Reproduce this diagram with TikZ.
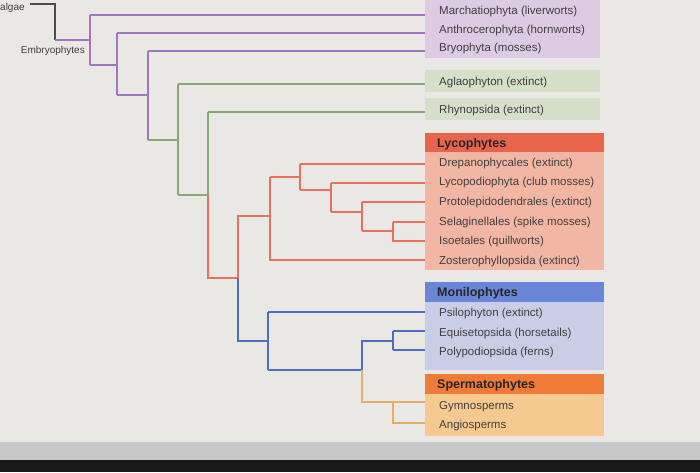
\documentclass[tikz,border=0pt]{standalone}
\usepackage{fontspec}
\setmainfont{Liberation Sans}
\usetikzlibrary{positioning}
\definecolor{bggray}{HTML}{E9E8E5}
\definecolor{lnpurple}{HTML}{A275C2}
\definecolor{lngreen}{HTML}{8AA872}
\definecolor{lnred}{HTML}{E8705E}
\definecolor{lnblue}{HTML}{4F6DC0}
\definecolor{lnorange}{HTML}{E9AC66}
\definecolor{bxpurple}{HTML}{DCCBE2}
\definecolor{bxgreen}{HTML}{D6DFC8}
\definecolor{hdred}{HTML}{E8654C}
\definecolor{bxred}{HTML}{F2B6A4}
\definecolor{hdblue}{HTML}{6A86D8}
\definecolor{bxblue}{HTML}{C9CDE6}
\definecolor{hdorange}{HTML}{F07A38}
\definecolor{bxorange}{HTML}{F5C98F}
\begin{document}
\begin{tikzpicture}[x=1pt, y=-1pt, every node/.style={font=\fontsize{11.5}{12}\selectfont},
  leaf/.style={anchor=west, inner sep=0pt, yshift=-2pt, text=black!75},
  head/.style={anchor=west, inner sep=0pt, yshift=-1pt, font=\fontsize{12.5}{13}\selectfont\bfseries, text=black!85},
  branch/.style={line width=1.2pt}]
\useasboundingbox (0,0) rectangle (700,472);
\fill[bggray] (0,0) rectangle (700,442);
\fill[black!22] (0,442) rectangle (700,460);
\fill[black!90] (0,460) rectangle (700,472);
% boxes
\fill[bxpurple] (425,0) rectangle (600,58);
\fill[bxgreen] (425,70) rectangle (600,92);
\fill[bxgreen] (425,98) rectangle (600,120);
\fill[hdred] (425,133) rectangle (604,152);
\fill[bxred] (425,152) rectangle (604,270);
\fill[hdblue] (425,282) rectangle (604,302);
\fill[bxblue] (425,302) rectangle (604,370);
\fill[hdorange] (425,374) rectangle (604,394);
\fill[bxorange] (425,394) rectangle (604,436);
% labels
\node (algae) [anchor=west, inner sep=0pt, font=\fontsize{10}{11}\selectfont, text=black!75] at (0,8) {algae};
\node (embryo) [anchor=east, inner sep=0pt, font=\fontsize{10}{11}\selectfont, text=black!75] at (85,51) {Embryophytes};
\node (liver) [leaf] at (439,10) {Marchatiophyta (liverworts)};
\node (horn) [leaf] at (439,29) {Anthrocerophyta (hornworts)};
\node (moss) [leaf] at (439,47) {Bryophyta (mosses)};
\node (aglao) [leaf] at (439,81) {Aglaophyton (extinct)};
\node (rhyno) [leaf] at (439,109) {Rhynopsida (extinct)};
\node (lyco) [head] at (437,143) {Lycophytes};
\node (drep) [leaf] at (439,162) {Drepanophycales (extinct)};
\node (club) [leaf] at (439,181) {Lycopodiophyta (club mosses)};
\node (proto) [leaf] at (439,201) {Protolepidodendrales (extinct)};
\node (spike) [leaf] at (439,221) {Selaginellales (spike mosses)};
\node (quill) [leaf] at (439,240) {Isoetales (quillworts)};
\node (zoster) [leaf] at (439,260) {Zosterophyllopsida (extinct)};
\node (moni) [head] at (437,292) {Monilophytes};
\node (psilo) [leaf] at (439,312) {Psilophyton (extinct)};
\node (equi) [leaf] at (439,332) {Equisetopsida (horsetails)};
\node (poly) [leaf] at (439,351) {Polypodiopsida (ferns)};
\node (sperm) [head] at (437,384) {Spermatophytes};
\node (gymno) [leaf] at (439,405) {Gymnosperms};
\node (angio) [leaf] at (439,424) {Angiosperms};
% tips at the box edge
\foreach \n/\y in {liver/15, horn/33, moss/51, aglao/84, rhyno/112, drep/164, club/183, proto/202,
  spike/222, quill/241, zoster/260, psilo/312, equi/331, poly/350, gymno/402, angio/423}
  \coordinate (t-\n) at (425,\y);
% tree
\draw[branch, black!70] (30,4) -| (55,40);
\draw[branch, lnpurple] (55,40) -- (90,40) (90,15) -- (90,65)
  (90,15) -- (t-liver) (90,65) -| (117,95) (117,33) -- (117,65) (117,33) -- (t-horn)
  (117,95) -| (148,140) (148,51) -- (148,95) (148,51) -- (t-moss);
\draw[branch, lngreen] (148,140) -| (178,195) (178,84) -- (178,140) (178,84) -- (t-aglao)
  (178,195) -- (208,195) (208,112) -- (208,195) (208,112) -- (t-rhyno);
\draw[branch, lnred] (208,195) |- (238,278) -- (238,216) -| (270,260) -- (t-zoster)
  (270,177) -- (270,216) (270,177) -| (300,190) (300,164) -- (300,177) (300,164) -- (t-drep)
  (300,190) -| (331,212) (331,183) -- (331,190) (331,183) -- (t-club)
  (331,212) -| (362,231) (362,202) -- (362,212) (362,202) -- (t-proto)
  (362,231) -| (393,241) -- (t-quill) (393,222) -- (393,231) (393,222) -- (t-spike);
\draw[branch, lnblue] (238,278) |- (268,341) (268,312) -- (268,370) (268,312) -- (t-psilo)
  (268,370) -| (362,341) -- (393,341) (393,331) -- (393,350)
  (393,331) -- (t-equi) (393,350) -- (t-poly);
\draw[branch, lnorange] (362,370) |- (t-gymno) (362,402) -- (393,402) |- (t-angio);
\end{tikzpicture}
\end{document}
